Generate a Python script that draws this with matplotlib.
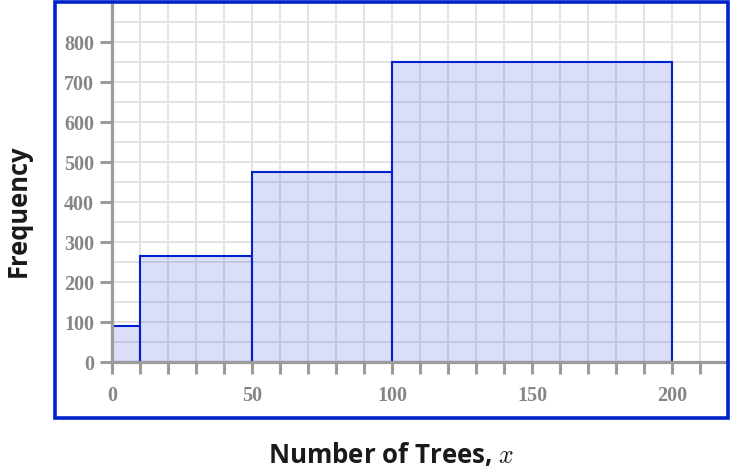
import numpy as np
import matplotlib
matplotlib.use('Agg')
import matplotlib.pyplot as plt
from matplotlib.patches import Rectangle

# histogram classes (number of trees) and frequencies
bin_starts = [0, 10, 50, 100]
bin_widths = [10, 40, 50, 100]
frequencies = [90, 265, 475, 750]

x_major = [0, 50, 100, 150, 200]
x_minor = [10, 20, 30, 40, 60, 70, 80, 90, 110, 120, 130, 140, 160, 170, 180, 190, 210]
y_major = [0, 100, 200, 300, 400, 500, 600, 700, 800]

plt.rcParams['mathtext.fontset'] = 'cm'

blue = '#0022cc'
grey = '#9b9b9b'
grid_col = '#e3e3e3'

fig = plt.figure(figsize=(7.3, 4.72), dpi=100)
ax = fig.add_axes([54.5 / 730, 1 - 417.5 / 472, 673.5 / 730, 415.8 / 472])
ax.set_xlim(-20.5, 220)
ax.set_ylim(-138.75, 900.75)
ax.patch.set_alpha(0)

# grid only in the positive quadrant
for gx in np.arange(10, 221, 10):
    ax.plot([gx, gx], [0, 900.75], color=grid_col, lw=1.4, zorder=1)
for gy in np.arange(50, 901, 50):
    ax.plot([0, 220], [gy, gy], color=grid_col, lw=1.4, zorder=1)

# bars
ax.bar(bin_starts, frequencies, width=bin_widths, align='edge',
       facecolor=(0.247, 0.318, 0.878, 0.19), edgecolor=blue, linewidth=1.5, zorder=2)

# axes lines through the origin
for side in ['top', 'right']:
    ax.spines[side].set_visible(False)
ax.spines['left'].set_position(('data', 0))
ax.spines['bottom'].set_position(('data', 0))
ax.spines['left'].set_bounds(0, 900.75)
ax.spines['bottom'].set_bounds(0, 220)
for side in ['left', 'bottom']:
    ax.spines[side].set_color(grey)
    ax.spines[side].set_linewidth(2.3)
    ax.spines[side].set_zorder(3)

ax.set_xticks(x_major)
ax.set_xticks(x_minor, minor=True)
ax.set_yticks(y_major)
ax.tick_params(axis='both', which='both', direction='out', length=8.3, width=2.2,
               color=grey, labelcolor='#858585')
ax.tick_params(axis='x', pad=9)
ax.tick_params(axis='y', pad=4.5)
for lab in ax.get_xticklabels() + ax.get_yticklabels():
    lab.set_fontfamily('Liberation Serif')
    lab.set_fontweight('bold')
    lab.set_fontsize(14.5)

# outer blue frame
fig.add_artist(Rectangle((54.5 / 730, 1 - 417.5 / 472), 673.5 / 730, 415.8 / 472,
                         transform=fig.transFigure, fill=False, edgecolor=blue,
                         linewidth=2.6, clip_on=False))

fig.text(0.025, 1 - 211 / 472, 'Frequency', rotation=90, ha='center', va='center',
         fontsize=18.4, fontweight='bold', family='Open Sans', color='#1a1a1a')
fig.text(391 / 730, 1 - 455 / 472, r'Number of Trees, $\mathregular{}\mathit{x}$', ha='center', va='center',
         fontsize=18.6, fontweight='bold', family='Open Sans', color='#1a1a1a')

fig.savefig('out.png', dpi=100)
